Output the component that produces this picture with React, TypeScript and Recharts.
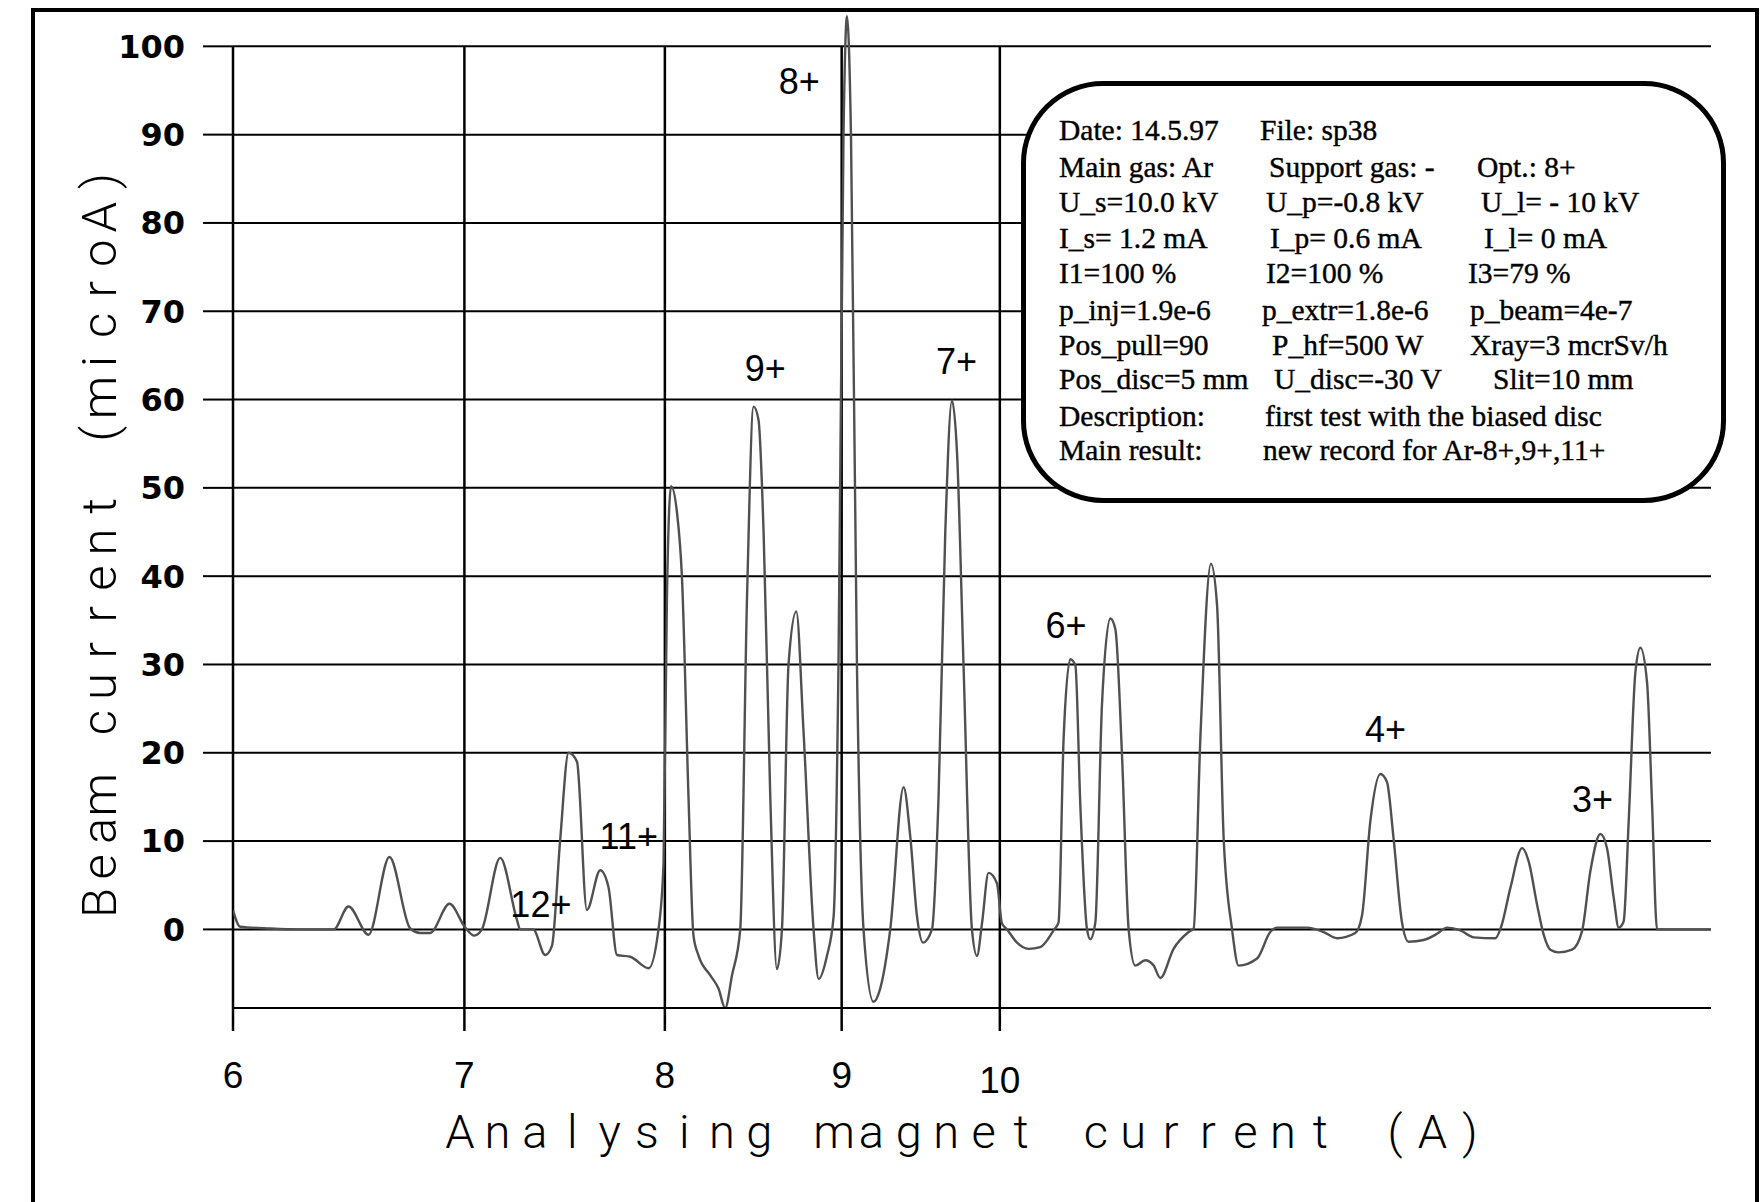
import { LineChart, Line, XAxis, YAxis, CartesianGrid, ReferenceLine, ReferenceDot, Label } from 'recharts';

// analysing magnet current (A)
const magnetCurrent = [
  6.0, 6.029, 6.151, 6.275, 6.416, 6.48, 6.567, 6.659, 6.752, 6.797, 6.842, 6.931, 7.004, 7.046, 7.082,
  7.169, 7.249, 7.265, 7.328, 7.387, 7.42, 7.461, 7.503, 7.545, 7.595, 7.663, 7.705, 7.749, 7.818, 7.914,
  7.966, 7.993, 8.011, 8.033, 8.065, 8.092, 8.127, 8.154, 8.182, 8.246, 8.291, 8.328, 8.366, 8.412, 8.45,
  8.487, 8.515, 8.544, 8.582, 8.62, 8.649, 8.687, 8.732, 8.774, 8.833, 8.863, 8.912, 8.952, 8.981, 9.011,
  9.032, 9.056, 9.092, 9.132, 9.193, 9.234, 9.296, 9.379, 9.421, 9.463, 9.501, 9.558, 9.6, 9.643, 9.686,
  9.719, 9.761, 9.816, 9.849, 9.882, 9.925, 9.981, 10.014, 10.048, 10.115, 10.193, 10.273, 10.365, 10.399,
  10.434, 10.481, 10.516, 10.551, 10.598, 10.621, 10.657, 10.704, 10.764, 10.8, 10.848, 10.896, 10.944,
  11.018, 11.079, 11.128, 11.227, 11.34, 11.378, 11.429, 11.51, 11.557, 11.608, 11.673, 11.724, 11.869,
  11.974, 12.028, 12.271, 12.407, 12.518, 12.672, 12.729, 12.799, 12.885, 12.942, 12.999, 13.072, 13.13,
  13.262, 13.381, 13.47, 13.59, 13.711, 13.911, 13.965, 14.051, 14.161, 14.223, 14.303, 14.366, 14.43,
  14.51, 14.64, 14.738, 14.82, 14.919, 14.985, 15.052, 15.102, 15.152, 15.203, 15.271, 15.322, 15.39,
  15.442, 15.493, 16.06,
];

// beam current (microA)
const beamCurrent = [
  2.2, 0.3, 0.1, 0, 0, 2.6, -0.6, 8.2, 0.1, -0.4, -0.4, 2.9, 0.2, -0.7, 0,
  8.1, 1.1, 0, 0, -2.9, -1.9, 10.1, 20, 19, 2.2, 6.7, 4.8, -2.9, -3.1, -4.4,
  0, 7.5, 37.5, 50.2, 47.2, 39.7, 15, -0.7, -3, -5.2, -6.7, -8.9, -5.2, 0, 37.5,
  59.2, 57.7, 44.9, 15, -4.5, 0, 30, 36, 22.5, 0, -5.6, -3, 1.5, 30, 90,
  103.4, 90, 30, 0, -8.2, -6.7, 0, 16.1, 10.5, 1.5, -1.5, 0, 15, 44.9, 59.9,
  53.9, 30, 0, -3, 0.7, 6.4, 5.2, 0.7, 0, -1.5, -2.2, -2, -0.1, 0.8,
  21.6, 30.6, 29.9, 14, 0, -1.1, 0.8, 25.4, 35.2, 34, 19.7, 0, -4.1,
  -3.5, -4.1, -5.5, -2.2, -0.3, 0.1, 21.6, 41.4, 36.7, 10.3, 0, -4.1, -3.3,
  -0.3, 0.2, 0.2, -0.3, -1, -0.4, 1.6, 12.2, 17.6, 16.7, 10.3, 0.8, -1.4,
  -1.2, -0.5, 0.2, -0.1, -0.9, -1, 0.3, 4.7, 9.2, 7.7, 2.8, -0.6, -2.3,
  -2.6, -2.3, -0.2, 6.6, 10.8, 9.2, 3.6, 0.2, 0.9, 12.2, 29.1, 31.9, 28,
  14.1, 0, 0,
];

const xTicks = [6, 7, 8, 9, 10];
const yTicks = [0, 10, 20, 30, 40, 50, 60, 70, 80, 90, 100];

const xTitle = 'Analysing magnet current (A)';
const yTitle = 'Beam current (microA)';

// charge state annotations, anchored in data units
const peakNames = ['8+', '9+', '7+', '6+', '4+', '3+', '11+', '12+'];
const peakAtCurrent = [8.75, 8.553, 9.715, 10.45, 12.93, 14.84, 7.81, 7.366];
const peakAtBeam = [96.1, 63.5, 64.3, 34.4, 22.7, 14.7, 10.6, 2.8];

const infoRows = [
  ['Date: 14.5.97', 'File: sp38'],
  ['Main gas: Ar', 'Support gas: -', 'Opt.: 8+'],
  ['U_s=10.0 kV', 'U_p=-0.8 kV', 'U_l= - 10 kV'],
  ['I_s= 1.2 mA', 'I_p= 0.6 mA', 'I_l= 0 mA'],
  ['I1=100 %', 'I2=100 %', 'I3=79 %'],
  ['p_inj=1.9e-6', 'p_extr=1.8e-6', 'p_beam=4e-7'],
  ['Pos_pull=90', 'P_hf=500 W', 'Xray=3 mcrSv/h'],
  ['Pos_disc=5 mm', 'U_disc=-30 V', 'Slit=10 mm'],
  ['Description:', 'first test with the biased disc'],
  ['Main result:', 'new record for Ar-8+,9+,11+'],
];

const data = magnetCurrent.map((x, i) => ({ x, y: beamCurrent[i] }));

const SANS = 'Liberation Sans, Arial, sans-serif';
const WIDE = 'DejaVu Sans, Verdana, sans-serif';
const THIN = 'Roboto, Lato, Noto Sans, sans-serif';
const SERIF = 'Liberation Serif, Times New Roman, serif';

// column offsets inside the info box, per row
const rowTops = [130, 167, 202, 238, 273, 310, 345, 379, 416, 450];
const colLefts = [
  [1059, 1260],
  [1059, 1269, 1477],
  [1059, 1266, 1481],
  [1059, 1270, 1484],
  [1059, 1266, 1468],
  [1059, 1262, 1470],
  [1059, 1272, 1470],
  [1059, 1274, 1493],
  [1059, 1265],
  [1059, 1263],
];

// plotter-style lettering: every character sits in its own fixed cell
function CellText({ text, x, y, pitch, size, transform }: any) {
  return (
    <text
      transform={transform}
      y={y}
      textAnchor="middle"
      fill="#000"
      fontSize={size}
      fontWeight={300}
      fontFamily={THIN}
    >
      {text.split('').map((ch: string, i: number) => (
        <tspan key={i} x={x + i * pitch}>
          {ch}
        </tspan>
      ))}
    </text>
  );
}

function XTick(props: any) {
  const { x, y, payload } = props;
  const drop = payload.value === 10 ? 5 : 0;
  return (
    <text x={x} y={y + drop} dy="0.72em" textAnchor="middle" fill="#000" fontSize={37} fontFamily={SANS}>
      {payload.value}
    </text>
  );
}

export default function App() {
  return (
    <div style={{ position: 'absolute', left: 0, top: 0, width: 1763, height: 1202, background: '#fff', overflow: 'hidden' }}>
      <div style={{ position: 'absolute', left: 31, top: 8, width: 1728, height: 1300, border: '4px solid #000', boxSizing: 'border-box' }} />
      <div style={{ position: 'absolute', left: 0, top: 0 }}>
        <LineChart width={1763} height={1202} data={data} margin={{ top: 11, right: 52, left: 0, bottom: 114 }}>
          <CartesianGrid vertical={false} stroke="#000" strokeWidth={2} />
          <XAxis
            dataKey="x"
            type="number"
            scale="log"
            domain={[6, 16.06]}
            allowDataOverflow
            ticks={xTicks}
            interval={0}
            height={80}
            axisLine={{ stroke: '#000', strokeWidth: 2 }}
            tickLine={{ stroke: '#000', strokeWidth: 2.5 }}
            tickSize={23}
            tickMargin={30}
            tick={<XTick />}
          >
            <Label content={() => <CellText text={xTitle} x={460} y={1148} pitch={37.4} size={47} />} />
          </XAxis>
          <YAxis
            type="number"
            domain={[-8.9, 104]}
            allowDataOverflow
            ticks={yTicks}
            interval={0}
            width={233}
            axisLine={false}
            tickLine={{ stroke: '#000', strokeWidth: 2 }}
            tickSize={30}
            tickMargin={18}
            tick={{ fill: '#000', fontSize: 32, fontWeight: 700, fontFamily: WIDE }}
          >
            <Label
              content={() => (
                <CellText text={yTitle} transform="translate(116,903) rotate(-90)" x={0} y={0} pitch={36.1} size={49} />
              )}
            />
          </YAxis>
          {xTicks.map((v) => (
            <ReferenceLine
              key={v}
              segment={[{ x: v, y: -8.9 }, { x: v, y: 100 }]}
              stroke="#000"
              strokeWidth={2.5}
              ifOverflow="visible"
            />
          ))}
          <Line
            type="monotone"
            dataKey="y"
            stroke="#505050"
            strokeWidth={2.4}
            dot={false}
            isAnimationActive={false}
          />
          {peakNames.map((name, i) => (
            <ReferenceDot
              key={name}
              x={peakAtCurrent[i]}
              y={peakAtBeam[i]}
              r={0}
              fill="none"
              stroke="none"
              label={{ value: name, position: 'center', fill: '#000', fontSize: 36, fontFamily: SANS }}
            />
          ))}
        </LineChart>
      </div>
      <div
        style={{
          position: 'absolute',
          left: 1021,
          top: 81,
          width: 705,
          height: 422,
          border: '5px solid #000',
          borderRadius: 82,
          background: '#fff',
          boxSizing: 'border-box',
        }}
      />
      {infoRows.map((row, r) =>
        row.map((txt, c) => (
          <div
            key={`${r}-${c}`}
            style={{
              position: 'absolute',
              left: colLefts[r][c],
              top: rowTops[r] - 18,
              height: 36,
              lineHeight: '36px',
              fontFamily: SERIF,
              fontSize: 29.5,
              color: '#000',
              whiteSpace: 'pre',
              WebkitTextStroke: '0.4px #000',
            }}
          >
            {txt}
          </div>
        ))
      )}
    </div>
  );
}
